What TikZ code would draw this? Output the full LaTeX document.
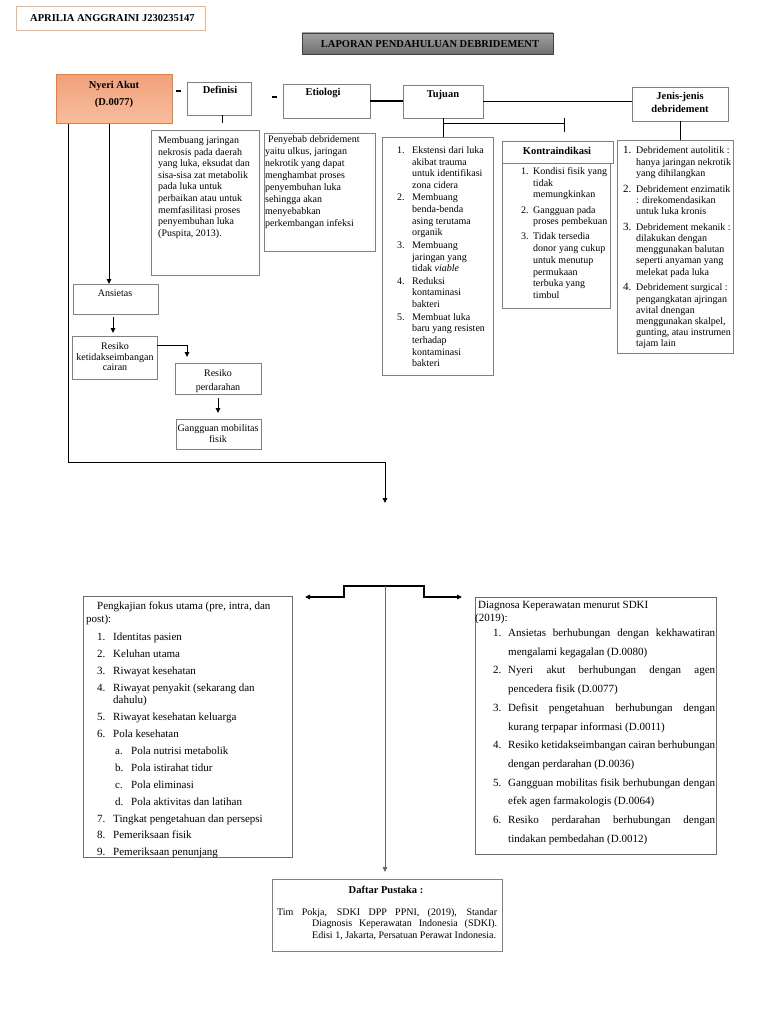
\documentclass[tikz,border=0pt]{standalone}
\usepackage{fontspec}
\setmainfont{Liberation Serif}
\usetikzlibrary{arrows.meta,calc}
\definecolor{bgray}{HTML}{808080}
\definecolor{lgray}{HTML}{6E6E6E}
\definecolor{orgb}{HTML}{ED7D31}
\definecolor{orgl}{HTML}{F4B183}
\definecolor{nyt}{HTML}{F2A17B}
\definecolor{nyb}{HTML}{F7BE9F}
\definecolor{hdt}{HTML}{A0A0A0}
\definecolor{hdb}{HTML}{707070}
\definecolor{hdd}{HTML}{404040}
\newcommand\mkbox[6][]{\node[box,minimum width=#5pt,minimum height=#6pt,#1] (#2) at (#3,#4) {};}
\newcommand\nm[2]{\makebox[#1][l]{#2}}
\begin{document}
\begin{tikzpicture}[x=1pt,y=-1pt,
 box/.style={draw=bgray,line width=0.8pt,fill=white,inner sep=0pt,outer sep=0pt,anchor=north west},
 conn/.style={draw=black,line width=0.9pt},
 arr/.style={conn,-{Triangle[length=5pt,width=4.5pt]}},
 lbl/.style={inner sep=0pt,anchor=base,font=\bfseries\fontsize{10.5}{12}\selectfont},
 tx/.style={inner sep=0pt,anchor=base west,font=\fontsize{10}{11.7}\selectfont},
 ctx/.style={inner sep=0pt,anchor=base,font=\fontsize{10}{12}\selectfont},
]
\fill[white] (0,0) rectangle (768,1024);
\useasboundingbox (0,0) rectangle (768,1024);

% ---- title and header
\mkbox[draw=orgl,line width=1pt]{ttl}{16}{7}{189}{24}
\node[lbl,anchor=base west] (ttlt) at (30,22) {APRILIA ANGGRAINI J230235147};
\mkbox[draw=hdd,top color=hdt,bottom color=hdb,line width=0.9pt]{hdr}{302}{33}{251}{21}
\node[lbl] (hdrt) at (430,47.5) {LAPORAN PENDAHULUAN DEBRIDEMENT};

% ---- top row
\mkbox[draw=orgb,top color=nyt,bottom color=nyb,line width=1pt]{nyeri}{56}{75}{116}{49}
\node[lbl] (n1) at (114,89) {Nyeri Akut};
\node[lbl] (n2) at (114,105.5) {(D.0077)};
\draw[line width=1.2pt] (176,91) -- (181,91);
\draw[line width=1.2pt] (272,97) -- (277,97);

\mkbox{def}{187}{82}{64}{33}
\node[lbl] (defh) at (220,93.5) {Definisi};
\mkbox{eti}{283}{84}{87}{34}
\node[lbl] (etih) at (323,96) {Etiologi};
\mkbox{tuj}{403}{85}{80}{33}
\node[lbl] (tujh) at (443,98) {Tujuan};
\mkbox{jen}{632}{87}{96}{34}
\node[lbl] (jen1) at (680,99.5) {Jenis-jenis};
\node[lbl] (jen2) at (680,112.5) {debridement};

\draw[conn,line width=1.3pt] (eti.east) -- (eti.east -| tuj.west);
\draw[conn] (tuj.east) -- (tuj.east -| jen.west);
\coordinate (dtk) at (222,123);
\draw[conn] (def.south -| dtk) -- (dtk);

% ---- definisi / etiologi text boxes
\mkbox{defl}{151}{130}{108}{145}
\node[tx,font=\fontsize{10}{11.6}\selectfont] (deft) at (158,143.5) {\begin{tabular}[t]{@{}l@{}}
Membuang jaringan\\ nekrosis pada daerah\\ yang luka, eksudat dan\\ sisa-sisa zat metabolik\\
pada luka untuk\\ perbaikan atau untuk\\ memfasilitasi proses\\ penyembuhan luka\\ (Puspita, 2013).\end{tabular}};
\mkbox{etil}{264}{133}{111}{118}
\node[tx,font=\fontsize{10}{11.9}\selectfont] (etit) at (265,143) {\begin{tabular}[t]{@{}l@{}}
\hspace*{3pt}Penyebab debridement\\ yaitu ulkus, jaringan\\ nekrotik yang dapat\\ menghambat proses\\
penyembuhan luka\\ sehingga akan\\ menyebabkan\\ perkembangan infeksi\end{tabular}};

% ---- tujuan
\mkbox{tujl}{382}{137}{111}{238}
\draw[conn] (tuj.south) -- (tuj.south |- tujl.north);
\coordinate (ktk) at (564,123);
\draw[conn] (tuj.south |- ktk) -- (ktk);
\draw[conn] ($(ktk)+(0,-5)$) -- ($(ktk)+(0,9)$);
\node[tx,font=\fontsize{10}{11.67}\selectfont] (tujt) at (397,153.5) {\begin{tabular}[t]{@{}l@{}l@{}}
\nm{15pt}{1.} & Ekstensi dari luka\\ & akibat trauma\\ & untuk identifikasi\\ & zona cidera\\[0.8pt]
\nm{15pt}{2.} & Membuang\\ & benda-benda\\ & asing terutama\\ & organik\\[0.8pt]
\nm{15pt}{3.} & Membuang\\ & jaringan yang\\ & tidak \textit{viable}\\[0.8pt]
\nm{15pt}{4.} & Reduksi\\ & kontaminasi\\ & bakteri\\[0.8pt]
\nm{15pt}{5.} & Membuat luka\\ & baru yang resisten\\ & terhadap\\ & kontaminasi\\ & bakteri
\end{tabular}};

% ---- kontraindikasi
\mkbox{kh}{502}{141}{111}{22}
\node[lbl] (kht) at (557,155) {Kontraindikasi};
\mkbox{kl}{502}{163}{108}{145}
\node[tx,font=\fontsize{10}{11.7}\selectfont] (klt) at (521,174.5) {\begin{tabular}[t]{@{}l@{}l@{}}
\nm{12pt}{1.} & Kondisi fisik yang\\ & tidak\\ & memungkinkan\\[3.5pt]
\nm{12pt}{2.} & Gangguan pada\\ & proses pembekuan\\[3.5pt]
\nm{12pt}{3.} & Tidak tersedia\\ & donor yang cukup\\ & untuk menutup\\ & permukaan\\ & terbuka yang\\ & timbul
\end{tabular}};

% ---- jenis-jenis
\mkbox{jenl}{617}{140}{116}{213}
\draw[conn] (jen.south) -- (jen.south |- jenl.north);
\node[tx,font=\fontsize{10}{11.2}\selectfont] (jent) at (623,154) {\begin{tabular}[t]{@{}l@{}l@{}}
\nm{13pt}{\fontsize{11}{11.2}\selectfont 1.} & Debridement autolitik :\\ & hanya jaringan nekrotik\\ & yang dihilangkan\\[4.6pt]
\nm{13pt}{\fontsize{11}{11.2}\selectfont 2.} & Debridement enzimatik\\ & : direkomendasikan\\ & untuk luka kronis\\[4.6pt]
\nm{13pt}{\fontsize{11}{11.2}\selectfont 3.} & Debridement mekanik :\\ & dilakukan dengan\\ & menggunakan balutan\\ & seperti anyaman yang\\ & melekat pada luka\\[4.6pt]
\nm{13pt}{\fontsize{11}{11.2}\selectfont 4.} & Debridement surgical :\\ & pengangkatan ajringan\\ & avital dnengan\\ & menggunakan skalpel,\\ & gunting, atau instrumen\\ & tajam lain
\end{tabular}};

% ---- left column
\mkbox{ans}{73}{284}{85}{30}
\node[ctx] (anst) at (115,296.5) {Ansietas};
\mkbox{res}{72}{336}{85}{43}
\node[ctx,font=\fontsize{10}{10.5}\selectfont] (rest) at (115,349.5) {\begin{tabular}[t]{@{}c@{}}Resiko\\ ketidakseimbangan\\ cairan\end{tabular}};
\mkbox{perd}{175}{363}{86}{31}
\node[ctx] (perd1) at (218,376) {Resiko};
\node[ctx] (perd2) at (218,390.5) {perdarahan};
\mkbox{gang}{176}{419}{85}{30}
\node[ctx] (gang1) at (218,431.5) {Gangguan mobilitas};
\node[ctx] (gang2) at (218,442) {fisik};

\draw[arr,line width=1pt] (nyeri.south -| 109,0) -- (ans.north -| 109,0);
\coordinate (mid) at (385,462);
\coordinate (spl) at (385,503);
\draw[arr] (nyeri.south -| 68,0) |- (mid) -- (spl);
\draw[arr,shorten <=3pt,shorten >=3pt] (ans.south -| 113,0) -- (res.north -| 113,0);
\draw[arr,shorten >=6pt] (res.east |- 0,345) -| (perd.north -| 187,0);
\draw[arr,shorten <=4pt,shorten >=6pt] (perd.south) -- (perd.south |- gang.north);

% ---- bottom section
\mkbox[draw=lgray]{pk}{83}{596}{209}{261}
\mkbox[draw=lgray]{dg}{475}{597}{241}{257}
\mkbox{dp}{272}{879}{230}{72}

\coordinate (sp) at (385,586);
\draw[arr,line width=1.2pt,shorten >=13pt] (sp) -| (344,597) -- (pk.east |- 0,597);
\draw[arr,line width=1.2pt,shorten >=13pt] (sp) -| (424,597) -- (dg.west |- 0,597);
\draw[arr,draw=black!60,line width=0.8pt,shorten >=7pt] (sp) -- (sp |- dp.north);

\node[tx,font=\fontsize{11}{12.5}\selectfont] (pkt) at (86,609.5) {\begin{tabular}[t]{@{}l@{}}
\hspace*{11pt}Pengkajian fokus utama (pre, intra, dan\\
post):\\[6pt]
\hspace*{11pt}\nm{16pt}{1.}Identitas pasien\\[4.4pt]
\hspace*{11pt}\nm{16pt}{2.}Keluhan utama\\[4.4pt]
\hspace*{11pt}\nm{16pt}{3.}Riwayat kesehatan\\[4.4pt]
\hspace*{11pt}\nm{16pt}{4.}Riwayat penyakit (sekarang dan\\
\hspace*{27pt}dahulu)\\[4.4pt]
\hspace*{11pt}\nm{16pt}{5.}Riwayat kesehatan keluarga\\[4.4pt]
\hspace*{11pt}\nm{16pt}{6.}Pola kesehatan\\[4.4pt]
\hspace*{29pt}\nm{16pt}{a.}Pola nutrisi metabolik\\[4.4pt]
\hspace*{29pt}\nm{16pt}{b.}Pola istirahat tidur\\[4.4pt]
\hspace*{29pt}\nm{16pt}{c.}Pola eliminasi\\[4.4pt]
\hspace*{29pt}\nm{16pt}{d.}Pola aktivitas dan latihan\\[4.4pt]
\hspace*{11pt}\nm{16pt}{7.}Tingkat pengetahuan dan persepsi\\[4.4pt]
\hspace*{11pt}\nm{16pt}{8.}Pemeriksaan fisik\\[4.4pt]
\hspace*{11pt}\nm{16pt}{9.}Pemeriksaan penunjang
\end{tabular}};

\node[tx,font=\fontsize{11}{12.5}\selectfont] (dgt) at (475,608.5) {\begin{tabular}[t]{@{}l@{}}
\hspace*{3pt}Diagnosa Keperawatan menurut SDKI\\
(2019):\\[3pt]
\hspace*{18pt}\nm{15pt}{1.}\makebox[207pt][s]{Ansietas berhubungan dengan kekhawatiran}\\[6.2pt]
\hspace*{33pt}mengalami kegagalan (D.0080)\\[6.2pt]
\hspace*{18pt}\nm{15pt}{2.}\makebox[207pt][s]{Nyeri akut berhubungan dengan agen}\\[6.2pt]
\hspace*{33pt}pencedera fisik (D.0077)\\[6.2pt]
\hspace*{18pt}\nm{15pt}{3.}\makebox[207pt][s]{Defisit pengetahuan berhubungan dengan}\\[6.2pt]
\hspace*{33pt}kurang terpapar informasi (D.0011)\\[6.2pt]
\hspace*{18pt}\nm{15pt}{4.}\makebox[207pt][s]{Resiko ketidakseimbangan cairan berhubungan}\\[6.2pt]
\hspace*{33pt}dengan perdarahan (D.0036)\\[6.2pt]
\hspace*{18pt}\nm{15pt}{5.}\makebox[207pt][s]{Gangguan mobilitas fisik berhubungan dengan}\\[6.2pt]
\hspace*{33pt}efek agen farmakologis (D.0064)\\[6.2pt]
\hspace*{18pt}\nm{15pt}{6.}\makebox[207pt][s]{Resiko perdarahan berhubungan dengan}\\[6.2pt]
\hspace*{33pt}tindakan pembedahan (D.0012)
\end{tabular}};

\node[lbl] (dpt) at (386,893) {Daftar Pustaka :};
\node[tx,font=\fontsize{10}{11.5}\selectfont] (dpr) at (277,915) {\begin{tabular}[t]{@{}l@{}}
\makebox[220pt][s]{Tim Pokja, SDKI DPP PPNI, (2019), Standar}\\
\hspace*{35pt}\makebox[185pt][s]{Diagnosis Keperawatan Indonesia (SDKI).}\\
\hspace*{35pt}Edisi 1, Jakarta, Persatuan Perawat Indonesia.
\end{tabular}};
\end{tikzpicture}
\end{document}
